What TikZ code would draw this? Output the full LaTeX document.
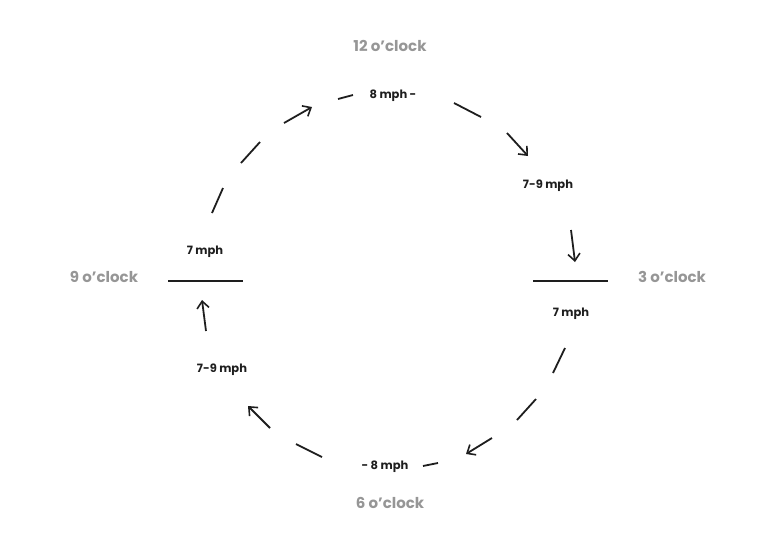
\documentclass[tikz,border=0pt]{standalone}
\usepackage{fontspec}
\setmainfont{Poppins}
\usetikzlibrary{arrows.meta}
\definecolor{clockgray}{RGB}{150,150,150}
\definecolor{ink}{RGB}{30,30,30}
\begin{document}
\begin{tikzpicture}[x=1pt,y=-1pt,
  seg/.style={draw=ink,line width=1.8pt},
  arr/.style={seg,-{Straight Barb[length=7pt,width=12pt,line width=1.6pt]}},
  bar/.style={draw=ink,line width=2.6pt},
  clocklbl/.style={text=clockgray,font=\fontsize{15}{15}\selectfont\bfseries},
  speed/.style={text=ink,font=\fontsize{11.5}{12}\selectfont\bfseries}]
\useasboundingbox (0,0) rectangle (768,542);
% labels
\node[clocklbl] (c12) at (390,46) {12 o’clock};
\node[clocklbl] (c6) at (390,503) {6 o’clock};
\node[clocklbl] (c9) at (104,277) {9 o’clock};
\node[clocklbl] (c3) at (672,277) {3 o’clock};
\node[speed] (stop) at (393,96) {8 mph -};
\node[speed] (sbot) at (385,467) {- 8 mph};
\node[speed] (str) at (548,186) {7-9 mph};
\node[speed] (sbl) at (222,370) {7-9 mph};
\node[speed] (sl) at (205,252) {7 mph};
\node[speed] (sr) at (571,314) {7 mph};
% bars
\draw[bar] (168,281) -- (243,281);
\draw[bar] (533,281) -- (608,281);
% top half
\draw[seg] (212,213) -- (223,188);
\draw[seg] (241,163) -- (260,142);
\draw[arr] (284,123) -- (312,107);
\draw[seg] (338,99) -- (353,95);
\draw[seg] (454,103) -- (481,117);
\draw[arr] (507,133) -- (528,156);
\draw[arr] (571,230) -- (575,262);
% bottom half
\draw[seg] (565,348) -- (553,373);
\draw[seg] (536,399) -- (517,420);
\draw[arr] (492,438) -- (466,454);
\draw[seg] (438,463) -- (423,466);
\draw[seg] (322,457) -- (296,444);
\draw[arr] (270,428) -- (248,406);
\draw[arr] (206,331) -- (202,300);
\end{tikzpicture}
\end{document}
